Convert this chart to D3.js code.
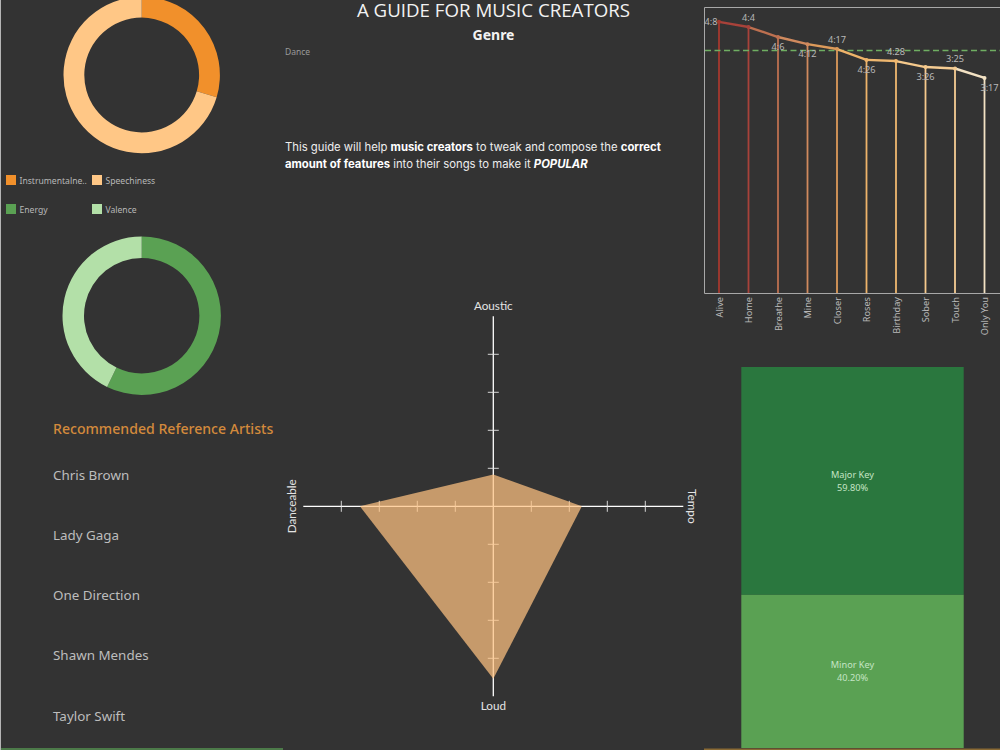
<!DOCTYPE html>
<html>
<head>
<meta charset="utf-8">
<script src="https://cdn.jsdelivr.net/npm/d3@7"></script>
<style>
  html, body { margin: 0; padding: 0; background: #333333; overflow: hidden; }
  svg { font-family: "Noto Sans", sans-serif; display: block; }
</style>
</head>
<body>
<svg id="canvas" width="1000" height="750"></svg>
<script>
// songs, most popular first
let songs = ['Alive', 'Home', 'Breathe', 'Mine', 'Closer', 'Roses', 'Birthday', 'Sober', 'Touch', 'Only You']
let popularity = [94.8, 93, 89.5, 87, 85.3, 81.5, 81.1, 79, 78.5, 75.2]
let durations = ['4:8', '4:4', '4:6', '4:12', '4:17', '4:26', '4:28', '3:26', '3:25', '3:17']
let avgPopularity = 84.8

let donutTop = ['Instrumentalness', 'Speechiness']
let donutTopValues = [29.6, 70.4]
let donutBottom = ['Energy', 'Valence']
let donutBottomValues = [57.2, 42.8]

let radarAxes = ['Aoustic', 'Tempo', 'Loud', 'Danceable']
let radarValues = [0.84, 2.33, 4.54, 3.51]
let radarTicks = [1, 2, 3, 4]

let artists = ['Chris Brown', 'Lady Gaga', 'One Direction', 'Shawn Mendes', 'Taylor Swift']

let keyNames = ['Major Key', 'Minor Key']
let keyShares = [59.8, 40.2]

let svg = d3.select('#canvas')
let orange = '#f1902b', peach = '#ffc786', green = '#5aa153', pale = '#b3e0a8', dark = '#2a773e'

// page edges
svg.append('rect').attr('x', 0).attr('y', 0).attr('width', 1).attr('height', 750).attr('fill', '#b5b5b5')
svg.append('rect').attr('x', 1).attr('y', 748).attr('width', 282).attr('height', 2).attr('fill', '#4c7a49')
svg.append('rect').attr('x', 704).attr('y', 748.5).attr('width', 296).attr('height', 1.5).attr('fill', '#8a6a34')

// titles
svg.append('text').attr('x', 493.5).attr('y', 17).attr('text-anchor', 'middle')
   .attr('font-size', 18.7).attr('fill', '#f2f2f2').style('font-family', 'Open Sans').text('A GUIDE FOR MUSIC CREATORS')
svg.append('text').attr('x', 493.5).attr('y', 40).attr('text-anchor', 'middle')
   .attr('font-size', 14).attr('font-weight', 700).attr('fill', '#f2f2f2').text('Genre')
svg.append('text').attr('x', 285).attr('y', 54.5).attr('font-size', 8.5).attr('fill', '#9a9a9a').text('Dance')

let para = svg.append('g').style('font-family', 'Inter').attr('font-size', 11.3).attr('fill', '#eeeeee')
let line1 = para.append('text').attr('x', 285).attr('y', 151)
line1.append('tspan').text('This guide will help ')
line1.append('tspan').attr('font-weight', 700).attr('fill', '#fff').text('music creators')
line1.append('tspan').text(' to tweak and compose the ')
line1.append('tspan').attr('font-weight', 700).attr('fill', '#fff').text('correct')
let line2 = para.append('text').attr('x', 285).attr('y', 168)
line2.append('tspan').attr('font-weight', 700).attr('fill', '#fff').text('amount of features')
line2.append('tspan').text(' into their songs to make it ')
line2.append('tspan').attr('font-weight', 700).attr('font-style', 'italic').attr('fill', '#fff').text('POPULAR')

// donuts
let drawDonut = (cx, cy, outer, inner, values, colors) => {
  let pie = d3.pie().sort(null)
  let arc = d3.arc().innerRadius(inner).outerRadius(outer)
  svg.append('g').attr('transform', `translate(${cx},${cy})`)
     .selectAll('path')
     .data(pie(values))
     .enter()
     .append('path')
     .attr('d', arc)
     .attr('fill', (d, i) => colors[i])
}
drawDonut(141.7, 75, 78.2, 57.4, donutTopValues, [orange, peach])
drawDonut(141.7, 315.7, 79.2, 57.7, donutBottomValues, [green, pale])

// legend
let legendItems = [
  {name: 'Instrumentalne..', color: orange, x: 6, y: 175},
  {name: donutTop[1], color: peach, x: 92, y: 175},
  {name: donutBottom[0], color: green, x: 6, y: 204},
  {name: donutBottom[1], color: pale, x: 92, y: 204}
]
let legend = svg.append('g').selectAll('g').data(legendItems).enter().append('g')
legend.append('rect').attr('x', d => d.x).attr('y', d => d.y).attr('width', 10).attr('height', 10).attr('fill', d => d.color)
legend.append('text').attr('x', d => d.x + 13.5).attr('y', d => d.y + 9)
      .attr('font-size', 8.6).attr('fill', '#b8b8b8').text(d => d.name)

// artists
svg.append('text').attr('x', 53).attr('y', 433.5).attr('font-size', 14.1).attr('font-weight', 500).attr('fill', '#d38a3c').text('Recommended Reference Artists')
svg.append('g').selectAll('text').data(artists).enter().append('text')
   .attr('x', 53)
   .attr('y', (d, i) => 479.5 + i * 60.25)
   .attr('font-size', 13.4).attr('fill', '#bdbdbd').text(d => d)

// popularity chart
let xLine = d3.scalePoint().domain(songs).range([719, 984.5])
let yLine = d3.scaleLinear().domain([0, 100]).range([293, 7])
let songColor = d3.scaleLinear().domain([75.2, 79, 81.5, 85.3, 87, 89.5, 93, 94.8])
                  .range(['#f3e2c4', '#f5c98c', '#eeb36a', '#dc9a5a', '#d08a5e', '#bd7050', '#a8423a', '#a5382e'])

let frame = svg.append('g')
frame.append('path').attr('d', 'M1000,7.5H704.5V293.5H1000').attr('fill', 'none').attr('stroke', '#a8a8a8').attr('stroke-width', 1)

let points = songs.map((s, i) => ({song: s, value: popularity[i], label: durations[i]}))

svg.append('g').selectAll('line').data(points).enter().append('line')
   .attr('x1', d => xLine(d.song)).attr('x2', d => xLine(d.song))
   .attr('y1', d => yLine(d.value)).attr('y2', yLine(0))
   .attr('stroke', d => songColor(d.value)).attr('stroke-width', 1.8)

svg.append('line').attr('x1', 705).attr('x2', 1000)
   .attr('y1', yLine(avgPopularity)).attr('y2', yLine(avgPopularity))
   .attr('stroke', '#6fae62').attr('stroke-width', 1.4).attr('stroke-dasharray', '6,3.5')

svg.append('g').selectAll('line').data(points.slice(1)).enter().append('line')
   .attr('x1', (d, i) => xLine(points[i].song)).attr('y1', (d, i) => yLine(points[i].value))
   .attr('x2', d => xLine(d.song)).attr('y2', d => yLine(d.value))
   .attr('stroke', d => songColor(d.value)).attr('stroke-width', 2.4).attr('stroke-linecap', 'round')

svg.append('g').selectAll('circle').data(points).enter().append('circle')
   .attr('cx', d => xLine(d.song)).attr('cy', d => yLine(d.value)).attr('r', 2)
   .attr('fill', d => songColor(d.value))

let below = ['Breathe', 'Mine', 'Roses', 'Sober', 'Only You']
svg.append('g').selectAll('text').data(points).enter().append('text')
   .attr('x', d => d.song === 'Alive' ? xLine(d.song) - 8 : xLine(d.song) + (d.song === 'Only You' ? 5 : 0))
   .attr('y', d => {
     if (d.song === 'Alive') return yLine(d.value) + 3
     return yLine(d.value) + (below.includes(d.song) ? 13 : -6)
   })
   .attr('text-anchor', 'middle').attr('font-size', 9.2).attr('fill', '#b8b8b8').text(d => d.label)

let xAxis = svg.append('g').attr('transform', 'translate(0,293)').call(d3.axisBottom(xLine).tickSize(0).tickPadding(0))
xAxis.select('.domain').remove()
xAxis.selectAll('text')
     .attr('transform', 'rotate(-90)')
     .attr('x', -4).attr('y', 0).attr('dy', '0.33em')
     .attr('text-anchor', 'end').attr('font-size', 9.2).attr('fill', '#b8b8b8')
     .style('font-family', 'Noto Sans')

// radar
let cx = 493.3, cy = 506.3
let rScale = d3.scaleLinear().domain([0, 5]).range([0, 190])
let radar = svg.append('g').attr('transform', `translate(${cx},${cy})`)
radar.append('line').attr('x1', 0).attr('x2', 0).attr('y1', -rScale(5)).attr('y2', rScale(5)).attr('stroke', '#fff').attr('stroke-width', 1.3)
radar.append('line').attr('y1', 0).attr('y2', 0).attr('x1', -rScale(5)).attr('x2', rScale(5)).attr('stroke', '#fff').attr('stroke-width', 1.3)
radarTicks.forEach(t => {
  let r = rScale(t)
  ;[-r, r].forEach(p => {
    radar.append('line').attr('x1', -5.5).attr('x2', 5.5).attr('y1', p).attr('y2', p).attr('stroke', '#e8e8e8').attr('stroke-width', 0.9)
    radar.append('line').attr('y1', -5.5).attr('y2', 5.5).attr('x1', p).attr('x2', p).attr('stroke', '#e8e8e8').attr('stroke-width', 0.9)
  })
})
let angle = d3.scalePoint().domain(radarAxes).range([0, Math.PI * 1.5])
let polygon = d3.line().curve(d3.curveLinearClosed)
radar.append('path')
     .attr('d', polygon(radarAxes.map((a, i) => {
       let r = rScale(radarValues[i])
       return [r * Math.sin(angle(a)), -r * Math.cos(angle(a))]
     })))
     .attr('fill', '#ffc281').attr('fill-opacity', 0.72)

let radarLabel = (text, x, y, rot) => {
  radar.append('text').attr('transform', `translate(${x},${y}) rotate(${rot})`)
       .attr('text-anchor', 'middle').attr('dy', '0.35em').attr('font-size', 11.7)
       .attr('fill', '#e4e4e4').style('font-family', 'Lato').text(text)
}
radarLabel(radarAxes[0], 0, -200.5, 0)
radarLabel(radarAxes[1], 199, 0, 90)
radarLabel(radarAxes[2], 0, 199.5, 0)
radarLabel(radarAxes[3], -201, 0, -90)

// key treemap
let yKey = d3.scaleLinear().domain([0, 100]).range([367, 748])
let keyStart = [0, keyShares[0]]
let keyColors = [dark, green]
let keyBlocks = svg.append('g').selectAll('g').data(keyNames).enter().append('g')
keyBlocks.append('rect').attr('x', 741.3).attr('width', 222.4)
   .attr('y', (d, i) => yKey(keyStart[i]))
   .attr('height', (d, i) => yKey(keyStart[i] + keyShares[i]) - yKey(keyStart[i]))
   .attr('fill', (d, i) => keyColors[i])
keyBlocks.append('text').attr('x', 852.5).attr('text-anchor', 'middle')
   .attr('y', (d, i) => (yKey(keyStart[i]) + yKey(keyStart[i] + keyShares[i])) / 2 - 3)
   .attr('font-size', 9.2).attr('fill', '#c4e4c4').text(d => d)
keyBlocks.append('text').attr('x', 852.5).attr('text-anchor', 'middle')
   .attr('y', (d, i) => (yKey(keyStart[i]) + yKey(keyStart[i] + keyShares[i])) / 2 + 10)
   .attr('font-size', 9.2).attr('fill', '#c4e4c4').text((d, i) => keyShares[i].toFixed(2) + '%')
</script>
</body>
</html>
